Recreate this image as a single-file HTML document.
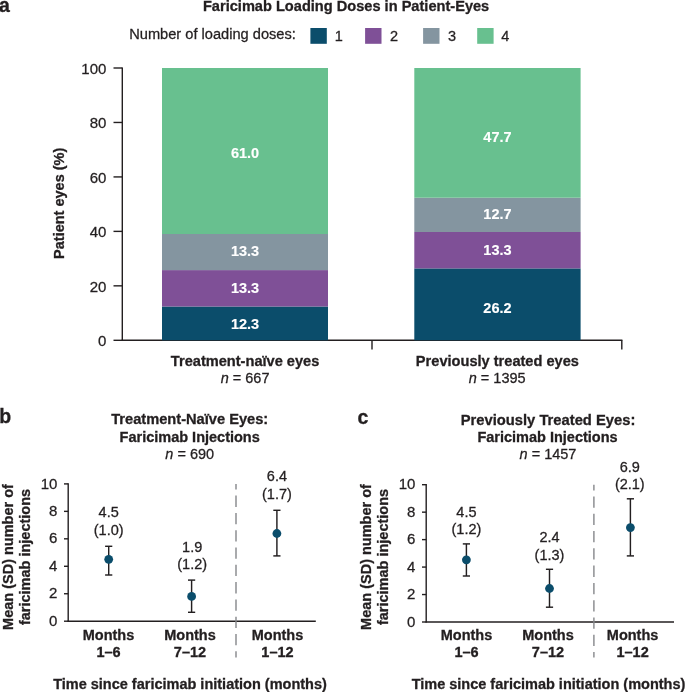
<!DOCTYPE html>
<html lang="en"><head><meta charset="utf-8"><title>Faricimab Loading Doses in Patient-Eyes</title>
<style>
html,body{margin:0;padding:0;background:#fff;}
body{width:685px;height:692px;overflow:hidden;}
svg{display:block;font-family:"Liberation Sans",Arial,Helvetica,sans-serif;}
</style></head><body>
<svg width="685" height="692" viewBox="0 0 685 692">
<rect width="685" height="692" fill="#fff"/>
<text x="-1" y="12.3" font-weight="bold" stroke="#231f20" stroke-width="0.3" font-size="19.5" fill="#231f20">a</text>
<text x="346.1" y="10.7" text-anchor="middle" font-weight="bold" stroke="#231f20" stroke-width="0.3" font-size="14.6" fill="#231f20">Faricimab Loading Doses in Patient-Eyes</text>
<text x="129.2" y="38.6" stroke="#231f20" stroke-width="0.28" font-size="14.63" fill="#231f20">Number of loading doses:</text>
<rect x="310.4" y="28" width="16.4" height="15.8" fill="#0b4d6b"/>
<text x="338.7" y="40.8" text-anchor="middle" stroke="#231f20" stroke-width="0.28" font-size="14.5" fill="#231f20">1</text>
<rect x="365.1" y="28" width="16.4" height="15.8" fill="#7f5097"/>
<text x="394" y="40.8" text-anchor="middle" stroke="#231f20" stroke-width="0.28" font-size="14.5" fill="#231f20">2</text>
<rect x="423.1" y="28" width="16.4" height="15.8" fill="#8495a0"/>
<text x="452" y="40.8" text-anchor="middle" stroke="#231f20" stroke-width="0.28" font-size="14.5" fill="#231f20">3</text>
<rect x="477.2" y="28" width="16.4" height="15.8" fill="#68c08f"/>
<text x="505.2" y="40.8" text-anchor="middle" stroke="#231f20" stroke-width="0.28" font-size="14.5" fill="#231f20">4</text>
<line x1="122.3" y1="67.4" x2="122.3" y2="340.90000000000003" stroke="#231f20" stroke-width="1.4"/>
<line x1="121.7" y1="340.3" x2="622.4" y2="340.3" stroke="#231f20" stroke-width="1.4"/>
<line x1="113.5" y1="340.3" x2="122.3" y2="340.3" stroke="#231f20" stroke-width="1.4"/>
<text x="106.4" y="346.1" text-anchor="end" stroke="#231f20" stroke-width="0.28" font-size="15" fill="#231f20">0</text>
<line x1="113.5" y1="285.84000000000003" x2="122.3" y2="285.84000000000003" stroke="#231f20" stroke-width="1.4"/>
<text x="106.4" y="291.64000000000004" text-anchor="end" stroke="#231f20" stroke-width="0.28" font-size="15" fill="#231f20">20</text>
<line x1="113.5" y1="231.38" x2="122.3" y2="231.38" stroke="#231f20" stroke-width="1.4"/>
<text x="106.4" y="237.18" text-anchor="end" stroke="#231f20" stroke-width="0.28" font-size="15" fill="#231f20">40</text>
<line x1="113.5" y1="176.92000000000002" x2="122.3" y2="176.92000000000002" stroke="#231f20" stroke-width="1.4"/>
<text x="106.4" y="182.72000000000003" text-anchor="end" stroke="#231f20" stroke-width="0.28" font-size="15" fill="#231f20">60</text>
<line x1="113.5" y1="122.46000000000001" x2="122.3" y2="122.46000000000001" stroke="#231f20" stroke-width="1.4"/>
<text x="106.4" y="128.26000000000002" text-anchor="end" stroke="#231f20" stroke-width="0.28" font-size="15" fill="#231f20">80</text>
<line x1="113.5" y1="68.0" x2="122.3" y2="68.0" stroke="#231f20" stroke-width="1.4"/>
<text x="106.4" y="73.8" text-anchor="end" stroke="#231f20" stroke-width="0.28" font-size="15" fill="#231f20">100</text>
<line x1="372" y1="340.3" x2="372" y2="349.6" stroke="#231f20" stroke-width="1.4"/>
<line x1="621.8" y1="340.3" x2="621.8" y2="349.6" stroke="#231f20" stroke-width="1.4"/>
<text transform="translate(64.0,203.3) rotate(-90)" text-anchor="middle" font-weight="bold" stroke="#231f20" stroke-width="0.3" font-size="14.5" fill="#231f20">Patient eyes (%)</text>
<rect x="162" y="306.5" width="166" height="33.80000000000001" fill="#0b4d6b"/>
<text x="245.0" y="328.9" text-anchor="middle" font-weight="bold" stroke="#fff" stroke-width="0.15" font-size="14.5" fill="#fff">12.3</text>
<rect x="162" y="270.1" width="166" height="36.39999999999998" fill="#7f5097"/>
<text x="245.0" y="293.0" text-anchor="middle" font-weight="bold" stroke="#fff" stroke-width="0.15" font-size="14.5" fill="#fff">13.3</text>
<rect x="162" y="234.0" width="166" height="36.10000000000002" fill="#8495a0"/>
<text x="245.0" y="255.9" text-anchor="middle" font-weight="bold" stroke="#fff" stroke-width="0.15" font-size="14.5" fill="#fff">13.3</text>
<rect x="162" y="68.0" width="166" height="166.0" fill="#68c08f"/>
<text x="245.0" y="157.7" text-anchor="middle" font-weight="bold" stroke="#fff" stroke-width="0.15" font-size="14.5" fill="#fff">61.0</text>
<rect x="414.3" y="268.4" width="166.3" height="71.90000000000003" fill="#0b4d6b"/>
<text x="497.45000000000005" y="312.5" text-anchor="middle" font-weight="bold" stroke="#fff" stroke-width="0.15" font-size="14.5" fill="#fff">26.2</text>
<rect x="414.3" y="232.0" width="166.3" height="36.39999999999998" fill="#7f5097"/>
<text x="497.45000000000005" y="254.7" text-anchor="middle" font-weight="bold" stroke="#fff" stroke-width="0.15" font-size="14.5" fill="#fff">13.3</text>
<rect x="414.3" y="197.7" width="166.3" height="34.30000000000001" fill="#8495a0"/>
<text x="497.45000000000005" y="219.1" text-anchor="middle" font-weight="bold" stroke="#fff" stroke-width="0.15" font-size="14.5" fill="#fff">12.7</text>
<rect x="414.3" y="68.0" width="166.3" height="129.7" fill="#68c08f"/>
<text x="497.45000000000005" y="141.7" text-anchor="middle" font-weight="bold" stroke="#fff" stroke-width="0.15" font-size="14.5" fill="#fff">47.7</text>
<text x="245.1" y="365.7" text-anchor="middle" font-weight="bold" stroke="#231f20" stroke-width="0.3" font-size="14.6" fill="#231f20">Treatment-naïve eyes</text>
<text x="245.1" y="383.2" text-anchor="middle" stroke="#231f20" stroke-width="0.28" font-size="14.5" fill="#231f20"><tspan font-style="italic">n</tspan> = 667</text>
<text x="497.4" y="365.7" text-anchor="middle" font-weight="bold" stroke="#231f20" stroke-width="0.3" font-size="14.6" fill="#231f20">Previously treated eyes</text>
<text x="497.2" y="383.2" text-anchor="middle" stroke="#231f20" stroke-width="0.28" font-size="14.5" fill="#231f20"><tspan font-style="italic">n</tspan> = 1395</text>
<text x="-0.8" y="422.9" font-weight="bold" stroke="#231f20" stroke-width="0.3" font-size="19.5" fill="#231f20">b</text>
<text x="189.7" y="424.2" text-anchor="middle" font-weight="bold" stroke="#231f20" stroke-width="0.3" font-size="14.65" fill="#231f20">Treatment-Naïve Eyes:</text>
<text x="189.7" y="441.5" text-anchor="middle" font-weight="bold" stroke="#231f20" stroke-width="0.3" font-size="14.5" fill="#231f20">Faricimab Injections</text>
<text x="189.7" y="458.7" text-anchor="middle" stroke="#231f20" stroke-width="0.28" font-size="14.5" fill="#231f20"><tspan font-style="italic">n</tspan> = 690</text>
<line x1="68.2" y1="483.29999999999995" x2="68.2" y2="621.8000000000001" stroke="#231f20" stroke-width="1.4"/>
<line x1="67.60000000000001" y1="621.2" x2="315.8" y2="621.2" stroke="#231f20" stroke-width="1.4"/>
<line x1="64.0" y1="621.2" x2="68.2" y2="621.2" stroke="#231f20" stroke-width="1.4"/>
<text x="57.400000000000006" y="625.8000000000001" text-anchor="end" stroke="#231f20" stroke-width="0.28" font-size="15" fill="#231f20">0</text>
<line x1="64.0" y1="593.74" x2="68.2" y2="593.74" stroke="#231f20" stroke-width="1.4"/>
<text x="57.400000000000006" y="598.34" text-anchor="end" stroke="#231f20" stroke-width="0.28" font-size="15" fill="#231f20">2</text>
<line x1="64.0" y1="566.28" x2="68.2" y2="566.28" stroke="#231f20" stroke-width="1.4"/>
<text x="57.400000000000006" y="570.88" text-anchor="end" stroke="#231f20" stroke-width="0.28" font-size="15" fill="#231f20">4</text>
<line x1="64.0" y1="538.82" x2="68.2" y2="538.82" stroke="#231f20" stroke-width="1.4"/>
<text x="57.400000000000006" y="543.4200000000001" text-anchor="end" stroke="#231f20" stroke-width="0.28" font-size="15" fill="#231f20">6</text>
<line x1="64.0" y1="511.36" x2="68.2" y2="511.36" stroke="#231f20" stroke-width="1.4"/>
<text x="57.400000000000006" y="515.96" text-anchor="end" stroke="#231f20" stroke-width="0.28" font-size="15" fill="#231f20">8</text>
<line x1="64.0" y1="483.9" x2="68.2" y2="483.9" stroke="#231f20" stroke-width="1.4"/>
<text x="57.400000000000006" y="488.5" text-anchor="end" stroke="#231f20" stroke-width="0.28" font-size="15" fill="#231f20">10</text>
<line x1="236.0" y1="484.0" x2="236.0" y2="657.5" stroke="#85878a" stroke-width="1.4" stroke-dasharray="11.3 6" stroke-dashoffset="5.7"/>
<line x1="108.7" y1="546.3" x2="108.7" y2="575.0" stroke="#231f20" stroke-width="1.45"/>
<line x1="105.10000000000001" y1="546.3" x2="112.3" y2="546.3" stroke="#231f20" stroke-width="1.45"/>
<line x1="105.10000000000001" y1="575.0" x2="112.3" y2="575.0" stroke="#231f20" stroke-width="1.45"/>
<circle cx="108.7" cy="559.3" r="4.4" fill="#0b4d6b"/>
<text x="108.7" y="517.4" text-anchor="middle" stroke="#231f20" stroke-width="0.28" font-size="14.5" fill="#231f20">4.5</text>
<text x="108.7" y="534.7" text-anchor="middle" stroke="#231f20" stroke-width="0.28" font-size="14.5" fill="#231f20">(1.0)</text>
<line x1="191.6" y1="580.1" x2="191.6" y2="612.3" stroke="#231f20" stroke-width="1.45"/>
<line x1="188.0" y1="580.1" x2="195.2" y2="580.1" stroke="#231f20" stroke-width="1.45"/>
<line x1="188.0" y1="612.3" x2="195.2" y2="612.3" stroke="#231f20" stroke-width="1.45"/>
<circle cx="191.6" cy="596.4" r="4.4" fill="#0b4d6b"/>
<text x="192.2" y="551.9" text-anchor="middle" stroke="#231f20" stroke-width="0.28" font-size="14.5" fill="#231f20">1.9</text>
<text x="192.2" y="569.2" text-anchor="middle" stroke="#231f20" stroke-width="0.28" font-size="14.5" fill="#231f20">(1.2)</text>
<line x1="276.9" y1="510.3" x2="276.9" y2="555.9" stroke="#231f20" stroke-width="1.45"/>
<line x1="273.29999999999995" y1="510.3" x2="280.5" y2="510.3" stroke="#231f20" stroke-width="1.45"/>
<line x1="273.29999999999995" y1="555.9" x2="280.5" y2="555.9" stroke="#231f20" stroke-width="1.45"/>
<circle cx="276.9" cy="533.5" r="4.4" fill="#0b4d6b"/>
<text x="276.9" y="481.3" text-anchor="middle" stroke="#231f20" stroke-width="0.28" font-size="14.5" fill="#231f20">6.4</text>
<text x="276.9" y="498.8" text-anchor="middle" stroke="#231f20" stroke-width="0.28" font-size="14.5" fill="#231f20">(1.7)</text>
<text x="108.5" y="639.5" text-anchor="middle" font-weight="bold" stroke="#231f20" stroke-width="0.3" font-size="14.5" fill="#231f20">Months</text>
<text x="108.5" y="657.0" text-anchor="middle" font-weight="bold" stroke="#231f20" stroke-width="0.3" font-size="14.5" fill="#231f20">1–6</text>
<text x="190.0" y="639.5" text-anchor="middle" font-weight="bold" stroke="#231f20" stroke-width="0.3" font-size="14.5" fill="#231f20">Months</text>
<text x="190.0" y="657.0" text-anchor="middle" font-weight="bold" stroke="#231f20" stroke-width="0.3" font-size="14.5" fill="#231f20">7–12</text>
<text x="277.5" y="639.5" text-anchor="middle" font-weight="bold" stroke="#231f20" stroke-width="0.3" font-size="14.5" fill="#231f20">Months</text>
<text x="277.5" y="657.0" text-anchor="middle" font-weight="bold" stroke="#231f20" stroke-width="0.3" font-size="14.5" fill="#231f20">1–12</text>
<text x="190.0" y="688.5" text-anchor="middle" font-weight="bold" stroke="#231f20" stroke-width="0.3" font-size="14.5" fill="#231f20">Time since faricimab initiation (months)</text>
<text transform="translate(13.1,557) rotate(-90)" text-anchor="middle" font-weight="bold" stroke="#231f20" stroke-width="0.3" font-size="14.5" fill="#231f20">Mean (SD) number of</text>
<text transform="translate(30.3,557) rotate(-90)" text-anchor="middle" font-weight="bold" stroke="#231f20" stroke-width="0.3" font-size="14.5" fill="#231f20">faricimab injections</text>
<text x="357.4" y="424.0" font-weight="bold" stroke="#231f20" stroke-width="0.3" font-size="19.5" fill="#231f20">c</text>
<text x="548.0" y="425.0" text-anchor="middle" font-weight="bold" stroke="#231f20" stroke-width="0.3" font-size="14.75" fill="#231f20">Previously Treated Eyes:</text>
<text x="547.52" y="442.3" text-anchor="middle" font-weight="bold" stroke="#231f20" stroke-width="0.3" font-size="14.5" fill="#231f20">Faricimab Injections</text>
<text x="548.0" y="459.18" text-anchor="middle" stroke="#231f20" stroke-width="0.28" font-size="14.5" fill="#231f20"><tspan font-style="italic">n</tspan> = 1457</text>
<line x1="426.2" y1="484.09999999999997" x2="426.2" y2="622.6" stroke="#231f20" stroke-width="1.4"/>
<line x1="425.59999999999997" y1="622.0" x2="674.0" y2="622.0" stroke="#231f20" stroke-width="1.4"/>
<line x1="422.0" y1="622.0" x2="426.2" y2="622.0" stroke="#231f20" stroke-width="1.4"/>
<text x="415.4" y="626.6" text-anchor="end" stroke="#231f20" stroke-width="0.28" font-size="15" fill="#231f20">0</text>
<line x1="422.0" y1="594.54" x2="426.2" y2="594.54" stroke="#231f20" stroke-width="1.4"/>
<text x="415.4" y="599.14" text-anchor="end" stroke="#231f20" stroke-width="0.28" font-size="15" fill="#231f20">2</text>
<line x1="422.0" y1="567.08" x2="426.2" y2="567.08" stroke="#231f20" stroke-width="1.4"/>
<text x="415.4" y="571.6800000000001" text-anchor="end" stroke="#231f20" stroke-width="0.28" font-size="15" fill="#231f20">4</text>
<line x1="422.0" y1="539.62" x2="426.2" y2="539.62" stroke="#231f20" stroke-width="1.4"/>
<text x="415.4" y="544.22" text-anchor="end" stroke="#231f20" stroke-width="0.28" font-size="15" fill="#231f20">6</text>
<line x1="422.0" y1="512.16" x2="426.2" y2="512.16" stroke="#231f20" stroke-width="1.4"/>
<text x="415.4" y="516.76" text-anchor="end" stroke="#231f20" stroke-width="0.28" font-size="15" fill="#231f20">8</text>
<line x1="422.0" y1="484.7" x2="426.2" y2="484.7" stroke="#231f20" stroke-width="1.4"/>
<text x="415.4" y="489.3" text-anchor="end" stroke="#231f20" stroke-width="0.28" font-size="15" fill="#231f20">10</text>
<line x1="593.9" y1="484.8" x2="593.9" y2="657.5" stroke="#85878a" stroke-width="1.4" stroke-dasharray="11.3 6" stroke-dashoffset="5.7"/>
<line x1="466.4" y1="543.9" x2="466.4" y2="576.0" stroke="#231f20" stroke-width="1.45"/>
<line x1="462.79999999999995" y1="543.9" x2="470.0" y2="543.9" stroke="#231f20" stroke-width="1.45"/>
<line x1="462.79999999999995" y1="576.0" x2="470.0" y2="576.0" stroke="#231f20" stroke-width="1.45"/>
<circle cx="466.4" cy="559.8" r="4.4" fill="#0b4d6b"/>
<text x="466.4" y="516.6" text-anchor="middle" stroke="#231f20" stroke-width="0.28" font-size="14.5" fill="#231f20">4.5</text>
<text x="466.4" y="534.0" text-anchor="middle" stroke="#231f20" stroke-width="0.28" font-size="14.5" fill="#231f20">(1.2)</text>
<line x1="549.5" y1="569.3" x2="549.5" y2="607.2" stroke="#231f20" stroke-width="1.45"/>
<line x1="545.9" y1="569.3" x2="553.1" y2="569.3" stroke="#231f20" stroke-width="1.45"/>
<line x1="545.9" y1="607.2" x2="553.1" y2="607.2" stroke="#231f20" stroke-width="1.45"/>
<circle cx="549.5" cy="588.5" r="4.4" fill="#0b4d6b"/>
<text x="549.5" y="542.1" text-anchor="middle" stroke="#231f20" stroke-width="0.28" font-size="14.5" fill="#231f20">2.4</text>
<text x="549.5" y="559.8" text-anchor="middle" stroke="#231f20" stroke-width="0.28" font-size="14.5" fill="#231f20">(1.3)</text>
<line x1="630.4" y1="498.8" x2="630.4" y2="555.9" stroke="#231f20" stroke-width="1.45"/>
<line x1="626.8" y1="498.8" x2="634.0" y2="498.8" stroke="#231f20" stroke-width="1.45"/>
<line x1="626.8" y1="555.9" x2="634.0" y2="555.9" stroke="#231f20" stroke-width="1.45"/>
<circle cx="630.4" cy="527.6" r="4.4" fill="#0b4d6b"/>
<text x="629.8" y="471.5" text-anchor="middle" stroke="#231f20" stroke-width="0.28" font-size="14.5" fill="#231f20">6.9</text>
<text x="629.8" y="488.9" text-anchor="middle" stroke="#231f20" stroke-width="0.28" font-size="14.5" fill="#231f20">(2.1)</text>
<text x="466.5" y="639.5" text-anchor="middle" font-weight="bold" stroke="#231f20" stroke-width="0.3" font-size="14.5" fill="#231f20">Months</text>
<text x="466.5" y="657.0" text-anchor="middle" font-weight="bold" stroke="#231f20" stroke-width="0.3" font-size="14.5" fill="#231f20">1–6</text>
<text x="548.0" y="639.5" text-anchor="middle" font-weight="bold" stroke="#231f20" stroke-width="0.3" font-size="14.5" fill="#231f20">Months</text>
<text x="548.0" y="657.0" text-anchor="middle" font-weight="bold" stroke="#231f20" stroke-width="0.3" font-size="14.5" fill="#231f20">7–12</text>
<text x="632.6" y="639.5" text-anchor="middle" font-weight="bold" stroke="#231f20" stroke-width="0.3" font-size="14.5" fill="#231f20">Months</text>
<text x="632.6" y="657.0" text-anchor="middle" font-weight="bold" stroke="#231f20" stroke-width="0.3" font-size="14.5" fill="#231f20">1–12</text>
<text x="548.5" y="688.82" text-anchor="middle" font-weight="bold" stroke="#231f20" stroke-width="0.3" font-size="14.5" fill="#231f20">Time since faricimab initiation (months)</text>
<text transform="translate(371.0,557) rotate(-90)" text-anchor="middle" font-weight="bold" stroke="#231f20" stroke-width="0.3" font-size="14.5" fill="#231f20">Mean (SD) number of</text>
<text transform="translate(388.3,557) rotate(-90)" text-anchor="middle" font-weight="bold" stroke="#231f20" stroke-width="0.3" font-size="14.5" fill="#231f20">faricimab injections</text>
</svg>
</body></html>
